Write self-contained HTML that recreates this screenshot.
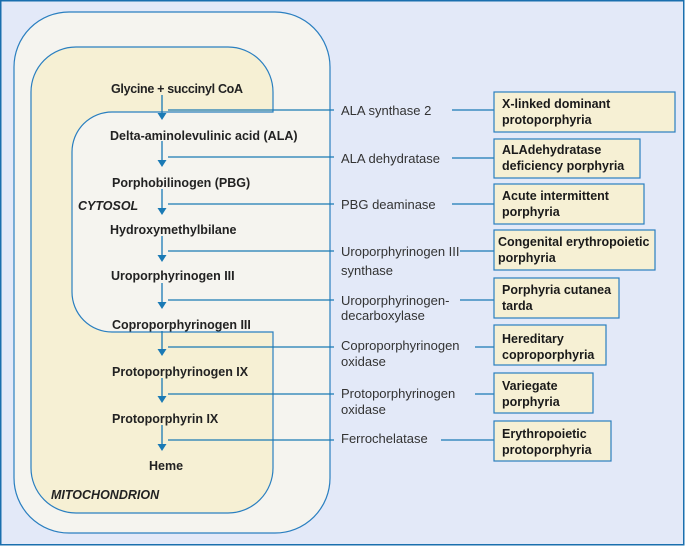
<!DOCTYPE html>
<html><head><meta charset="utf-8"><style>
html,body{margin:0;padding:0}
body{width:685px;height:546px;overflow:hidden;background:#fff}
svg{display:block}
text{font-family:"Liberation Sans",sans-serif}
.b{font-weight:bold;font-size:12.5px;fill:#222}
.e{font-size:13px;fill:#333}
.d{font-weight:bold;font-size:12.5px;fill:#1a1a1a}
</style></head><body>
<svg width="685" height="546" viewBox="0 0 685 546">
<rect x="0.75" y="0.75" width="683" height="544" fill="#e3e9f8" stroke="#1a6fae" stroke-width="1.5"/>
<rect x="14" y="12" width="316" height="521" rx="55" fill="#f5f4ef" stroke="#2a7fc0" stroke-width="1.2"/>
<path d="M76,47 H228 A45,45 0 0 1 273,92 V112 H112 A40,40 0 0 0 72,152 V292 A40,40 0 0 0 112,332 H273 V468 A45,45 0 0 1 228,513 H76 A45,45 0 0 1 31,468 V92 A45,45 0 0 1 76,47 Z" fill="#f6f0d4" stroke="#2a7fc0" stroke-width="1.2"/>
<g fill="none" stroke="#1a7ab5" stroke-width="1.3">
<path d="M162,95 V115 M162,141 V162 M162,189 V210 M162,236 V257 M162,283 V304 M162,331 V351 M162,378 V398 M162,425 V446"/>
<path d="M168,110 H334 M168,157 H334 M168,204 H334 M168,251 H334 M168,300 H334 M168,347 H334 M168,394 H334 M168,440 H334"/>
<path d="M452,110 H494 M452,158 H494 M452,204 H494 M460,251 H494 M460,300 H494 M475,347 H494 M475,394 H494 M441,440 H494"/>
</g>
<g fill="#1a7ab5">
<path d="M157.5,113 L166.5,113 L162,120 Z"/><path d="M157.5,160 L166.5,160 L162,167 Z"/><path d="M157.5,208 L166.5,208 L162,215 Z"/><path d="M157.5,255 L166.5,255 L162,262 Z"/><path d="M157.5,302 L166.5,302 L162,309 Z"/><path d="M157.5,349 L166.5,349 L162,356 Z"/><path d="M157.5,396 L166.5,396 L162,403 Z"/><path d="M157.5,444 L166.5,444 L162,451 Z"/>
</g>
<g class="b">
<text x="111" y="93" textLength="132">Glycine + succinyl CoA</text>
<text x="110" y="140">Delta-aminolevulinic acid (ALA)</text>
<text x="112" y="187">Porphobilinogen (PBG)</text>
<text x="110" y="234">Hydroxymethylbilane</text>
<text x="111" y="280">Uroporphyrinogen III</text>
<text x="112" y="329">Coproporphyrinogen III</text>
<text x="112" y="376">Protoporphyrinogen IX</text>
<text x="112" y="423">Protoporphyrin IX</text>
<text x="149" y="470">Heme</text>
</g>
<text x="78" y="210" class="b" font-style="italic" font-size="11.5">CYTOSOL</text>
<text x="51" y="499" class="b" font-style="italic" font-size="11.5">MITOCHONDRION</text>
<g class="e">
<text x="341" y="115">ALA synthase 2</text>
<text x="341" y="163">ALA dehydratase</text>
<text x="341" y="209">PBG deaminase</text>
<text x="341" y="256">Uroporphyrinogen III</text><text x="341" y="275">synthase</text>
<text x="341" y="305">Uroporphyrinogen-</text><text x="341" y="320">decarboxylase</text>
<text x="341" y="350">Coproporphyrinogen</text><text x="341" y="366">oxidase</text>
<text x="341" y="398">Protoporphyrinogen</text><text x="341" y="414">oxidase</text>
<text x="341" y="443">Ferrochelatase</text>
</g>
<g fill="#f6f0d4" stroke="#2a7fc0" stroke-width="1.2">
<rect x="494" y="92" width="181" height="40"/>
<rect x="494" y="139" width="146" height="39"/>
<rect x="494" y="184" width="150" height="40"/>
<rect x="494" y="230" width="161" height="40"/>
<rect x="494" y="278" width="125" height="40"/>
<rect x="494" y="325" width="112" height="40"/>
<rect x="494" y="373" width="99" height="40"/>
<rect x="494" y="421" width="117" height="40"/>
</g>
<g class="d">
<text x="502" y="108">X-linked dominant</text><text x="502" y="124">protoporphyria</text>
<text x="502" y="154">ALAdehydratase</text><text x="502" y="170">deficiency porphyria</text>
<text x="502" y="200">Acute intermittent</text><text x="502" y="216">porphyria</text>
<text x="498" y="246">Congenital erythropoietic</text><text x="498" y="262">porphyria</text>
<text x="502" y="294">Porphyria cutanea</text><text x="502" y="310">tarda</text>
<text x="502" y="343">Hereditary</text><text x="502" y="359">coproporphyria</text>
<text x="502" y="390">Variegate</text><text x="502" y="406">porphyria</text>
<text x="502" y="438">Erythropoietic</text><text x="502" y="454">protoporphyria</text>
</g>
</svg>
</body></html>
